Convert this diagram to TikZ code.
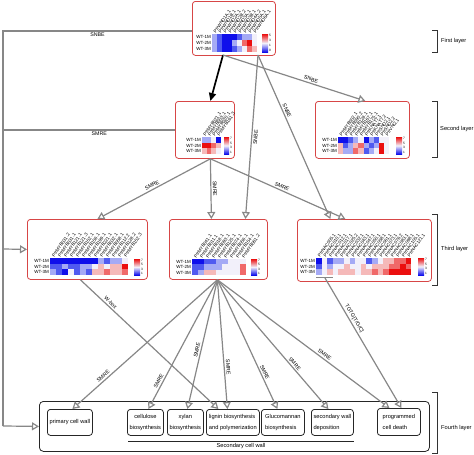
\documentclass[tikz,border=0pt]{standalone}
\usepackage{fontspec}
\setmainfont{Liberation Sans}
\usetikzlibrary{arrows.meta,calc}

\definecolor{hm1}{RGB}{15,15,235}
\definecolor{hm2}{RGB}{80,90,240}
\definecolor{hm3}{RGB}{165,170,245}
\definecolor{hm4}{RGB}{242,240,250}
\definecolor{hm5}{RGB}{245,185,185}
\definecolor{hm6}{RGB}{240,105,105}
\definecolor{hm7}{RGB}{235,15,15}
\definecolor{boxred}{RGB}{215,70,70}
\definecolor{lnk}{RGB}{135,135,135}

\tikzset{
 hbox/.style={draw=boxred, line width=0.8pt, rounded corners=3pt, anchor=north west, inner sep=0pt, fill=white},
 fbox/.style={draw=black!85, line width=0.8pt, rounded corners=3pt, anchor=north west, inner sep=0pt, minimum height=26pt, font=\fontsize{5.7}{11}\selectfont},
 conn/.style={draw=lnk, line width=1.2pt, -{Triangle[open,length=7pt,width=8pt,fill=white]}},
 blk/.style={draw=black, line width=1.7pt, -{Triangle[length=8pt,width=7pt]}},
 gline/.style={draw=lnk, line width=1.2pt},
 elab/.style={font=\fontsize{5.3}{5.3}\selectfont, sloped, inner sep=1.5pt},
 genelab/.style={font=\fontsize{4.6}{4.6}\selectfont, rotate=55, anchor=west, inner sep=0pt},
 rowlab/.style={font=\fontsize{4.5}{4.5}\selectfont, anchor=east, inner sep=0pt},
 cblab/.style={font=\fontsize{3.2}{3.2}\selectfont, anchor=west, inner sep=0pt},
 bracket/.style={draw=black!80, line width=0.9pt},
 layerlab/.style={font=\fontsize{5.7}{5.7}\selectfont, anchor=west, inner sep=0pt},
}

% x0 y0 cw ch row1 row2 row3
\newcommand\hmap[7]{%
 \foreach \v [count=\i from 0] in {#5}{\fill[fill=hm\v] ({#1+\i*#3},{#2}) rectangle ++({#3+0.15},{#4+0.15});}
 \foreach \v [count=\i from 0] in {#6}{\fill[fill=hm\v] ({#1+\i*#3},{#2+#4}) rectangle ++({#3+0.15},{#4+0.15});}
 \foreach \v [count=\i from 0] in {#7}{\fill[fill=hm\v] ({#1+\i*#3},{#2+2*#4}) rectangle ++({#3+0.15},{#4});}
 \node[rowlab] at ({#1-1},{#2+0.5*#4}) {WT-1M};
 \node[rowlab] at ({#1-1},{#2+1.5*#4}) {WT-2M};
 \node[rowlab] at ({#1-1},{#2+2.5*#4}) {WT-3M};
}
% x0 y0 cw list
\newcommand\glabels[4]{%
 \foreach \g [count=\i from 0] in {#4}{\node[genelab] at ({#1+(\i+0.5)*#3},{#2-1.5}) {\g};}
}
% x y w h labels(4)
\newcommand\hmcbar[5]{%
 \shade[top color=hm7, bottom color=hm1, middle color=hm4] (#1,#2) rectangle ++(#3,#4);
 \foreach \t [count=\i from 0] in {#5}{\node[cblab] at ({#1+#3+1},{#2+1.5+\i*(#4-3)/3}) {\t};}
}

\begin{document}
\begin{tikzpicture}[x=1pt,y=-1pt]
\useasboundingbox (0,0) rectangle (474,455);

% ---------- heatmap boxes ----------
\node[hbox, minimum width=83pt, minimum height=54pt] (L1) at (192,1) {};
\node[hbox, minimum width=59pt, minimum height=57pt] (L2a) at (175,101) {};
\node[hbox, minimum width=94pt, minimum height=57pt] (L2b) at (315,101) {};
\node[hbox, minimum width=120pt, minimum height=60pt] (L3a) at (27,219) {};
\node[hbox, minimum width=98pt, minimum height=60pt] (L3b) at (169,219) {};
\node[hbox, minimum width=134pt, minimum height=62pt] (L3c) at (297,219) {};

% first layer
\hmap{212}{34}{5}{6}{3,2,1,1,1,2,3,3,4}{3,2,1,1,3,4,6,7,4}{3,2,1,1,2,3,4,6,5}
\glabels{212}{34}{5}{PtrWND1A.1,PtrWND1B.1,PtrWND2A.1,PtrWND2B.2,PtrWND3A.1,PtrWND3B.1,PtrWND4A.2,PtrWND5A.1,PtrWND6A.1}
\hmcbar{262}{34}{6}{18}{5,3,1,0}

% second layer left
\hmap{202}{137}{4.6}{5.7}{3,3,4,1}{7,7,6,5}{5,6,5,4}
\glabels{202}{137}{4.6}{PtrMYB021.1,PtrMYB003.1,PtrMYB020.1,PtrMYB161.3}
\hmcbar{224}{137}{5}{17}{7,5,3,1}

% second layer right
\hmap{338}{137}{5.1}{5.7}{1,1,2,3,4,1,3,2,4,4}{5,2,3,5,6,3,2,3,7,4}{5,3,3,6,5,2,3,4,7,4}
\glabels{338}{137}{5.1}{PtrMYB002.1,PtrMYB090.2,PtrMYB128.1,PtrMYB167.1,PtrMYB175.1,PtrKNAT7.1,PtrKNAT7.2,PtrSND2.1,PtrSND2.2,PtrVNI2.1}
\hmcbar{396}{137}{6}{17}{7,5,3,1}

% third layer left
\hmap{50}{258}{6}{5.7}{1,1,1,1,1,1,1,1,3,2,3,3,4}{2,2,3,2,2,3,3,4,5,4,5,5,7}{3,2,1,4,2,3,2,5,5,6,5,5,6}
\glabels{50}{258}{6}{PtrMYB031.2,PtrMYB031.1,PtrMYB121.1,PtrMYB121.3,PtrMYB152.1,PtrMYB156.1,PtrMYB199.1,PtrMYB221.1,PtrMYB032.1,PtrMYB058.1,PtrMYB112.2,PtrMYB128.2,PtrMYB152.3}
\hmcbar{134}{259}{6}{16}{7,5,3,1}

% third layer middle
\hmap{192}{259}{6}{5.4}{1,1,2,2,3,3,4,4,4}{2,2,3,3,3,4,4,4,6}{2,3,5,5,4,4,4,4,6}
\glabels{192}{259}{6}{PtrMYB041.1,PtrMYB011.1,PtrMYB018.1,PtrMYB093.1,PtrMYB125.1,PtrMYB074.1,PtrMYB056.1,PtrMYB154.1,PtrMYB061.2}
\hmcbar{251}{259}{6}{16}{7,5,3,1}

% third layer right
\hmap{316}{258}{5.6}{5.7}{1,4,2,3,3,4,3,4,4,2,3,4,5,5,6,6,7}{2,4,3,4,4,5,4,4,5,4,5,5,5,6,6,7,6}{3,4,5,4,5,5,5,4,5,5,6,5,6,7,7,7,7}
\glabels{316}{258}{5.6}{PtrNAC005.1,PtrNAC010.1,PtrNAC012.1,PtrNAC017.1,PtrNAC025.2,PtrNAC032.1,PtrNAC043.1,PtrNAC047.1,PtrNAC050.1,PtrNAC058.1,PtrNAC061.1,PtrNAC073.1,PtrNAC076.2,PtrNAC083.1,PtrNAC098.1,PtrNAC105.1,PtrNAC121.1}
\hmcbar{418}{258}{6}{17}{7,5,3,1}
\draw[lnk, line width=1pt] (316,277.5) -- (333,277.5);

% ---------- fourth layer ----------
\node[draw=black!85, line width=0.8pt, rounded corners=4pt, anchor=north west, minimum width=390pt, minimum height=50pt, inner sep=0pt] (L4) at (39,401) {};
\node[fbox, minimum width=45pt] (P1) at (47,409) {primary cell wall};
\node[fbox, minimum width=36pt, align=center] (P2) at (127,409) {cellulose\\biosynthesis};
\node[fbox, minimum width=36pt, align=center] (P3) at (167,409) {xylan\\biosynthesis};
\node[fbox, minimum width=53pt, align=left] (P4) at (206,409) {lignin biosynthesis\\and polymerization};
\node[fbox, minimum width=43pt, align=left] (P5) at (261,409) {Glucomannan\\biosynthesis};
\node[fbox, minimum width=42pt, align=left] (P6) at (311,409) {secondary wall\\deposition};
\node[fbox, minimum width=43pt, minimum height=27pt, align=left] (P7) at (377,408) {programmed\\cell death};
\coordinate (scwa) at (128,441);
\coordinate (scwb) at (354,441);
\draw[black!85, line width=0.8pt] (scwa) -- (scwb);
\node[font=\fontsize{5.7}{5.7}\selectfont, inner sep=0pt] (SCW) at (241,446.5) {Secondary cell wall};

% ---------- connectors ----------
\coordinate (lt) at (3,31);
\coordinate (lm) at (3,130);
\coordinate (l3) at (3,249);
\coordinate (lb) at (3,426);
\draw[gline] (L1.west |- lt) -- node[elab, below]{SNBE} (lt) -- (lb);
\draw[gline] (L2a.west |- lm) -- node[elab, below, pos=0.44]{SMRE} (lm);
\draw[conn] (l3) -- (L3a.west);
\draw[conn] (lb) -- (L4.west);

\coordinate (s1) at (223,55);
\coordinate (s2) at (258,55);
\draw[blk] (s1) -- ($(L2a.north)+(5.5,0)$);
\draw[conn] (s1) -- node[elab, above, pos=0.61]{SNBE} ($(L2b.north)+(3,0)$);
\draw[conn] (s2) -- node[elab, below, pos=0.5]{SNBE} ($(L3b.north)+(27,0)$);
\draw[conn] (s2) -- node[elab, above, pos=0.35]{SNBE} ($(L3c.north)+(-34,0)$);

\coordinate (s3) at ($(L2a.south)+(5.5,0)$);
\draw[conn] (s3) -- node[elab, above]{SMRE} ($(L3a.north)+(10,0)$);
\draw[conn] (s3) -- node[elab, above]{SMRE} ($(L3b.north)+(-7,0)$);
\draw[conn] (s3) -- node[elab, above, pos=0.52]{SMRE} ($(L3c.north)+(-19,0)$);

\coordinate (s4) at ($(L3a.south)+(-7,0)$);
\draw[conn] (s4) -- node[elab, above, pos=0.2]{W-box} ($(P4.north)+(-14.5,0)$);

\coordinate (s5) at ($(L3b.south)+(-1,0)$);
\draw[conn] (s5) -- node[elab, above, pos=0.77]{SMRE} ($(P1.north)+(2.5,0)$);
\draw[conn] (s5) -- node[elab, above, pos=0.8]{SMRE} ($(P2.north)+(3,0)$);
\draw[conn] (s5) -- node[elab, above, pos=0.55]{SMRE} ($(P3.north)+(2,0)$);
\draw[conn] (s5) -- node[elab, above, pos=0.68]{SMRE} ($(P4.north)+(-5.5,0)$);
\draw[conn] (s5) -- node[elab, above, pos=0.73]{SMRE} ($(P5.north)+(-5.5,0)$);
\draw[conn] (s5) -- node[elab, above, pos=0.67]{SMRE} ($(P6.north)+(-4,0)$);
\draw[conn] (s5) -- node[elab, above, pos=0.61]{SMRE} ($(P7.north)+(-9.5,0)$);

\coordinate (s6) at (325,278);
\draw[conn] (s6) -- node[elab, above, pos=0.33]{TGTG[T/G/C]} ($(P7.north)+(2.5,0)$);

% ---------- layer brackets ----------
\draw[bracket] (432,30) -- (437,30) -- (437,52) -- (432,52);
\node[layerlab] (T1) at (441,41) {First layer};
\draw[bracket] (432,101) -- (437,101) -- (437,157) -- (432,157);
\node[layerlab] (T2) at (440,129) {Second layer};
\draw[bracket] (432,214) -- (437,214) -- (437,285) -- (432,285);
\node[layerlab] (T3) at (441,249) {Third layer};
\draw[bracket] (432,392) -- (437,392) -- (437,453) -- (432,453);
\node[layerlab] (T4) at (441,428) {Fourth layer};
\end{tikzpicture}
\end{document}
